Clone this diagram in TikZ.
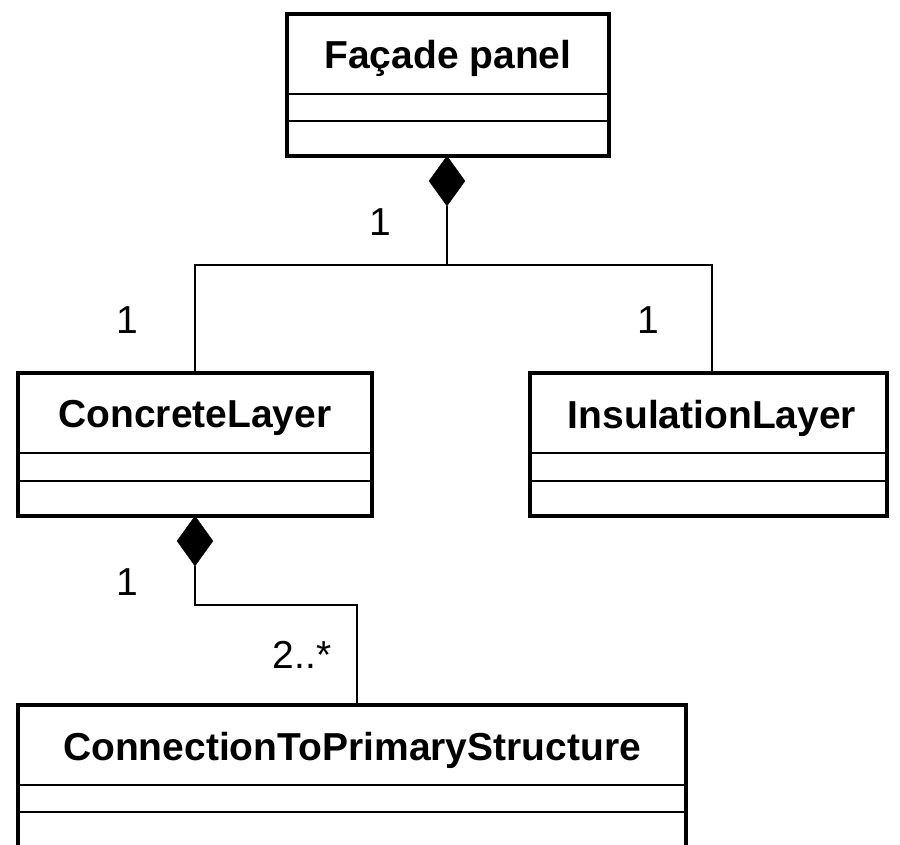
\documentclass[tikz,border=0pt]{standalone}
\usepackage{fontspec}
\setmainfont{Liberation Sans}
\usetikzlibrary{shapes.geometric}
\begin{document}
\begin{tikzpicture}[x=1pt,y=-1pt,
  cls/.style={draw,line width=4pt},
  sep/.style={line width=2pt},
  conn/.style={line width=2pt},
  title/.style={font=\fontsize{39}{44}\selectfont\bfseries},
  mult/.style={font=\fontsize{39}{44}\selectfont},
  dia/.style={diamond,fill=black,draw=black,inner sep=0pt,minimum width=36pt,minimum height=50pt}]
\useasboundingbox (0,0) rectangle (900,844);
% Facade panel
\draw[cls] (287,14) rectangle (609,156);
\draw[sep] (287,94) -- (609,94); \draw[sep] (287,121) -- (609,121);
\node[title] (fp) at (448,58) {Façade panel};
% ConcreteLayer
\draw[cls] (18,373) rectangle (372,516);
\draw[sep] (18,453) -- (372,453); \draw[sep] (18,481) -- (372,481);
\node[title] (cl) at (195,418) {ConcreteLayer};
% InsulationLayer
\draw[cls] (530,373) rectangle (887,516);
\draw[sep] (530,453) -- (887,453); \draw[sep] (530,481) -- (887,481);
\node[title] (il) at (712,418) {InsulationLayer};
% Connection
\draw[cls] (18,705) rectangle (686,860);
\draw[sep] (18,785) -- (686,785); \draw[sep] (18,812) -- (686,812);
\node[title] (cp) at (352,750) {ConnectionToPrimaryStructure};
% connectors
\node[dia] (d1) at (447,181) {};
\node[dia] (d2) at (195,541) {};
\coordinate (j1) at (447,265);
\draw[conn] (d1.south) -- (j1);
\draw[conn] (195,373) |- (j1) -| (712,373);
\draw[conn] (d2.south) |- (357,605) -- (357,705);
\node[mult] at (380,222) {1};
\node[mult] at (127,320) {1};
\node[mult] at (648,320) {1};
\node[mult] at (127,582) {1};
\node[mult] at (302,655) {2..*};
\end{tikzpicture}
\end{document}
